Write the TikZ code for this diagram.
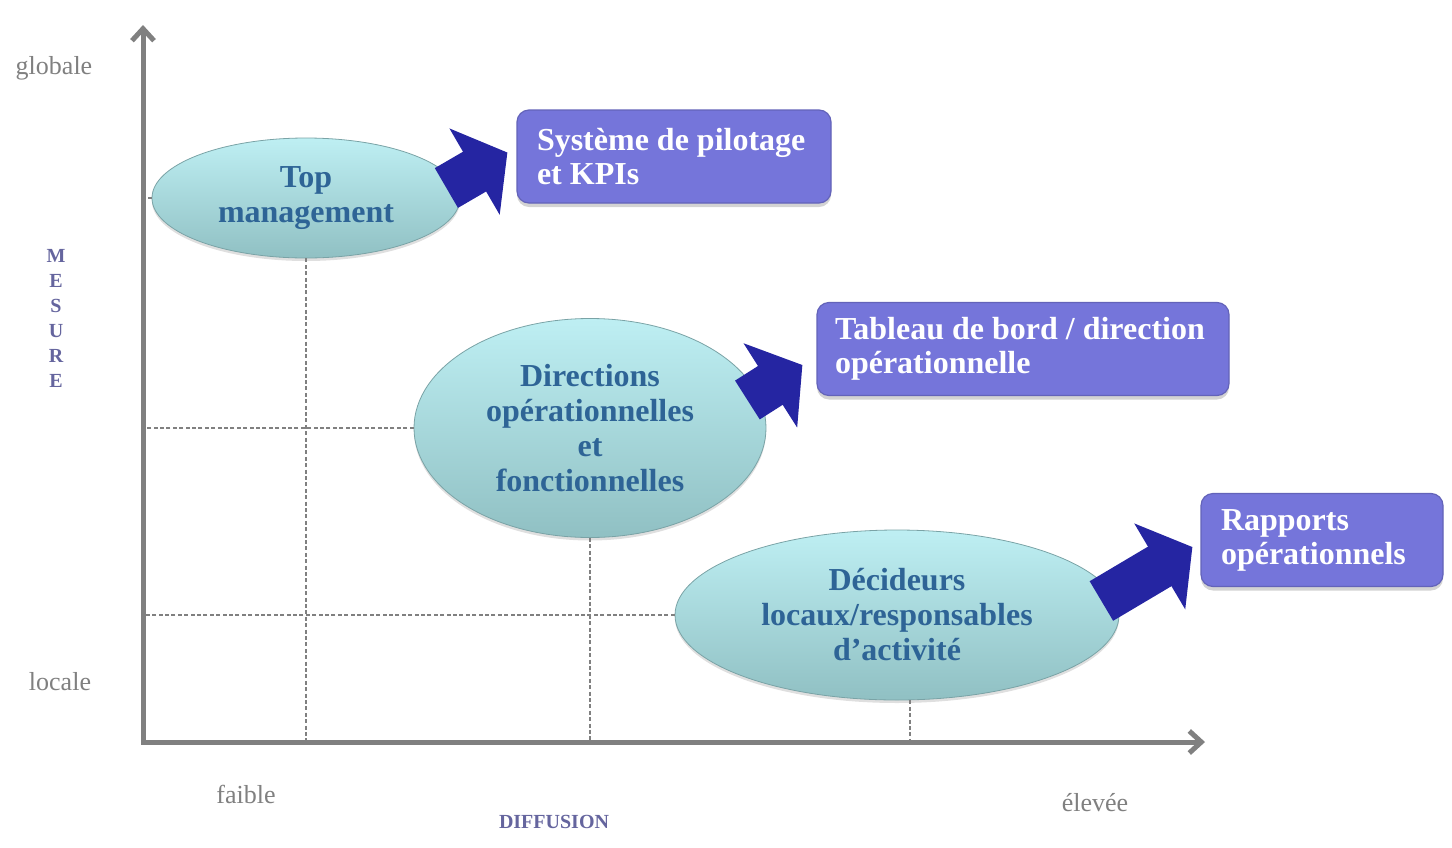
\documentclass[tikz,border=0pt]{standalone}
\usepackage{fontspec}
\setmainfont{Liberation Serif}
\usepackage{xcolor}
\usepackage{tikz}
\usetikzlibrary{shapes,positioning,arrows.meta,shadows,calc}
\definecolor{axisgray}{HTML}{808080}
\definecolor{elltop}{HTML}{BEEFF3}
\definecolor{ellbot}{HTML}{90C0C3}
\definecolor{elltext}{HTML}{2E6496}
\definecolor{boxblue}{HTML}{7575DA}
\definecolor{arrblue}{HTML}{2525A2}
\definecolor{labblue}{HTML}{65659E}
\tikzset{ell/.style={ellipse,draw=ellbot!85!black,line width=0.4pt,top color=elltop,bottom color=ellbot,inner sep=0pt,text=elltext,align=center,font=\bfseries\fontsize{16}{17.5}\selectfont,drop shadow={opacity=0.25,shadow xshift=0pt,shadow yshift=-1.5pt}}}
\tikzset{kbox/.style={rectangle,rounded corners=6pt,fill=boxblue,draw=boxblue!85!black,line width=0.6pt,text=white,align=flush left,inner xsep=10pt,minimum height=46.5pt,font=\bfseries\fontsize{16}{17}\selectfont,drop shadow={opacity=0.35,shadow xshift=0pt,shadow yshift=-2pt}}}
\tikzset{axlab/.style={text=axisgray,font=\fontsize{13}{15}\selectfont,inner sep=0pt}}
\tikzset{axtitle/.style={text=labblue,font=\bfseries\fontsize{10}{12.5}\selectfont,inner sep=0pt}}
\tikzset{guide/.style={draw=axisgray,dash pattern=on 2pt off 1.2pt,line width=0.7pt}}
\tikzset{bigarrow/.style={draw=arrblue,line width=23pt,-{Triangle[length=19pt,width=49pt]}}}

\begin{document}
\begin{tikzpicture}[x=0.5pt,y=-0.5pt,>={Straight Barb[length=6pt,width=11pt]}]
    \useasboundingbox (0,0) rectangle (1452,847);

    % axes
    \coordinate (o) at (143,742);
    \coordinate (ytop) at (143,25);
    \coordinate (xend) at (1205,742);
    \draw [<->,draw=axisgray,line width=2.5pt] (ytop) -- (o) -- (xend);

    \node[axlab] (glob) at (54,68) {globale};
    \node[axlab] (loc) at (60,682) {locale};
    \node[axlab] (fai) at (246,794) {faible};
    \node[axlab] (ele) at (1095,803) {élevée};
    \node[axtitle,align=center] (mes) at (56,318) {M\\E\\S\\U\\R\\E};
    \node[axtitle] (diff) at (554,822) {DIFFUSION};

    % populations
    \node[ell,minimum width=154pt,minimum height=60pt] (tm) at (306,198) {Top\\management};
    \node[ell,minimum width=176pt,minimum height=109.5pt] (dir) at (590,428) {Directions\\opérationnelles\\et\\fonctionnelles};
    \node[ell,minimum width=222pt,minimum height=85pt] (dec) at (897,615) {Décideurs\\locaux/responsables\\d’activité};

    % outils
    \node[kbox,text width=137pt] (kpi) at (674,156.5) {\mbox{Système de pilotage}\\et KPIs};
    \node[kbox,text width=188pt,inner xsep=9pt] (tdb) at (1023,349) {\mbox{Tableau de bord / direction}\\opérationnelle};
    \node[kbox,text width=101pt] (rap) at (1322,540) {Rapports\\\mbox{opérationnels}};

    \draw [guide] (tm.west) to [] (tm.west -| o);
    \draw [guide] (dir.west) to [] (dir.west -| o);
    \draw [guide] (dec.west) to [] (dec.west -| o);
    \draw [guide] (tm.south) to [] (tm.south |- o);
    \draw [guide] (dir.south) to [] (dir.south |- o);
    \draw [guide] ([xshift=6.5pt]dec.south) to [] ([xshift=6.5pt]dec.south |- o);

    \draw [bigarrow] ([shift={(-14,-10)}]tm.east) to [] ([shift={(-9,-4)}]kpi.west);
    \draw [bigarrow] ([shift={(-19,-28)}]dir.east) to [] ([shift={(-14,16)}]tdb.west);
    \draw [bigarrow] ([shift={(-18,-14)}]dec.east) to [] ([shift={(-8,7)}]rap.west);
\end{tikzpicture}
\end{document}
